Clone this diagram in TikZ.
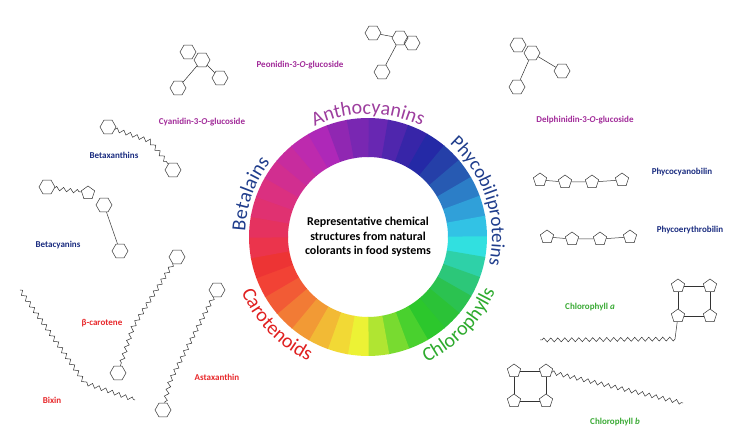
\documentclass[tikz,border=0pt]{standalone}
\usepackage{fontspec}
\setmainfont{Carlito}
\usetikzlibrary{shapes.geometric,decorations.text,decorations.pathmorphing}
\definecolor{lpurple}{HTML}{A22C9A}
\definecolor{lnavy}{HTML}{1A2C80}
\definecolor{lgreen}{HTML}{3AAA35}
\definecolor{lred}{HTML}{E8282B}
\definecolor{rpurple}{HTML}{9D3E9E}
\definecolor{rblue}{HTML}{1F3D8C}
\definecolor{rgreen}{HTML}{2DAA2D}
\definecolor{rred}{HTML}{E02020}
\tikzset{
 hex/.style={draw=black!80,line width=0.5pt,regular polygon,regular polygon sides=6,minimum size=16pt,inner sep=0pt},
 pent/.style={draw=black!80,line width=0.5pt,regular polygon,regular polygon sides=5,minimum size=14pt,inner sep=0pt},
 bond/.style={draw=black!80,line width=0.5pt},
 chain/.style={draw=black!80,line width=0.5pt,decorate,decoration={zigzag,segment length=7pt,amplitude=2pt}},
 lab/.style={font=\bfseries\fontsize{9}{10}\selectfont,anchor=center},
 ringlab/.style={decorate,decoration={text along path,text align=center,text={#1}}},
}
\newcommand{\anthoc}[9]{%
 \node[hex] (#1a) at (#2,#3) {};
 \node[hex] (#1c) at (#4,#5) {};
 \node[hex] (#1b) at (#6,#7) {};
 \node[hex] (#1s) at (#8,#9) {};
 \draw[bond] (#1c) -- (#1b);
 \draw[bond] (#1c) -- (#1s);
}
\begin{document}
\begin{tikzpicture}[x=1pt,y=1pt]
\useasboundingbox (0,0) rectangle (739,441);
\fill[white] (0,0) rectangle (739,441);
\coordinate (c) at (368,204);
% colour ring
\foreach \t/\h/\v in {0/268/0.70,10/258/0.68,20/248/0.66,30/238/0.65,40/228/0.66,50/218/0.70,60/208/0.78,70/200/0.85,80/192/0.90,90/180/0.88,100/165/0.82,110/150/0.78,120/135/0.76,130/125/0.76,140/120/0.78,150/110/0.82,160/95/0.86,170/78/0.90,180/62/0.95,190/52/0.95,200/42/0.95,210/32/0.95,220/22/0.95,230/12/0.95,240/4/0.95,250/360/0.93,260/352/0.92,270/345/0.90,280/338/0.88,290/332/0.86,300/324/0.82,310/316/0.78,320/306/0.74,330/296/0.72,340/285/0.70,350/275/0.70}{
 \pgfmathsetmacro{\hf}{mod(\h,360)/360}
 \definecolor{ringc}{hsb}{\hf,0.78,\v}
 \pgfmathsetmacro{\a}{90-\t+0.3}
 \pgfmathsetmacro{\b}{90-\t-10.3}
 \fill[ringc] ([shift={(\a:119)}]c) arc[start angle=\a,end angle=\b,radius=119] -- ([shift={(\b:80)}]c) arc[start angle=\b,end angle=\a,radius=80] -- cycle;
}
\node[align=center,font=\bfseries\fontsize{12}{14.5}\selectfont] (title) at (c) {Representative chemical\\structures from natural\\colorants in food systems};
% curved labels
\path[ringlab={|\fontsize{20}{22}\selectfont\color{rpurple}|Anthocyanins}] ([shift={(150:123)}]c) arc[start angle=150,end angle=30,radius=123];
\path[ringlab={|\fontsize{19}{22}\selectfont\color{rblue}|Phycobiliproteins}] ([shift={(88:124)}]c) arc[start angle=88,end angle=-52,radius=124];
\path[ringlab={|\fontsize{20}{22}\selectfont\color{rblue}|Betalains}] ([shift={(220:123)}]c) arc[start angle=220,end angle=100,radius=123];
\path[ringlab={|\fontsize{20}{22}\selectfont\color{rred}|Carotenoids}] ([shift={(180:138)}]c) arc[start angle=180,end angle=268,radius=138];
\path[ringlab={|\fontsize{20}{22}\selectfont\color{rgreen}|Chlorophylls}] ([shift={(-88:138)}]c) arc[start angle=-88,end angle=0,radius=138];
% labels
\node[lab,text=lpurple] (peo) at (300,376) {Peonidin-3-\textit{O}-glucoside};
\node[lab,text=lpurple] (cya) at (202,319) {Cyanidin-3-\textit{O}-glucoside};
\node[lab,text=lpurple] (del) at (585,321) {Delphinidin-3-\textit{O}-glucoside};
\node[lab,text=lnavy] (bx) at (114,286) {Betaxanthins};
\node[lab,text=lnavy] (bc) at (58,196) {Betacyanins};
\node[lab,text=lnavy] (pcb) at (682,269) {Phycocyanobilin};
\node[lab,text=lnavy] (peb) at (690,211) {Phycoerythrobilin};
\node[lab,text=lgreen] (cha) at (590,134) {Chlorophyll \textit{a}};
\node[lab,text=lgreen] (chb) at (615,19) {Chlorophyll \textit{b}};
\node[lab,text=lred] (bcar) at (102,118) {β-carotene};
\node[lab,text=lred] (asta) at (217,64) {Astaxanthin};
\node[lab,text=lred] (bix) at (52,41) {Bixin};
% anthocyanins
\anthoc{cy}{188}{389}{202}{381}{220}{363}{178}{353}
\anthoc{d}{518}{396}{532}{388}{562}{370}{517}{354}
\anthoc{p}{412}{398}{400}{403}{373}{408}{382}{369}
% betaxanthin
\node[hex] (bxr) at (108,314) {};
\node[hex] (bxp) at (173,271) {};
\coordinate (bxm) at (150,300);
\draw[chain] (bxr) -- (bxm) -- (bxp);
% betacyanin
\node[hex] (bcl) at (47,254) {};
\node[pent] (bcp) at (88,248) {};
\node[hex] (bci) at (104,236) {};
\node[hex] (bcs) at (120,190) {};
\draw[chain] (bcl) -- (bcp);
\draw[bond] (bci) -- (bcs);
% phycobilins
\node[pent] (pa1) at (540,261) {};
\node[pent] (pa2) at (565,259) {};
\node[pent] (pa3) at (592,259) {};
\node[pent] (pa4) at (622,261) {};
\node[pent] (pb1) at (547,204) {};
\node[pent] (pb2) at (572,202) {};
\node[pent] (pb3) at (600,202) {};
\node[pent] (pb4) at (630,204) {};
\draw[bond] (pa1) -- (pa2) -- (pa3) -- (pa4);
\draw[bond] (pb1) -- (pb2) -- (pb3) -- (pb4);
% chlorophyll a
\node[pent] (ca1) at (678,155) {};
\node[pent] (ca2) at (710,155) {};
\node[pent] (ca3) at (710,125) {};
\node[pent] (ca4) at (678,125) {};
\draw[bond] (ca1) -- (ca2) -- (ca3) -- (ca4) -- (ca1);
\coordinate (cat1) at (675,102);
\coordinate (cat2) at (540,101);
\draw[bond] (ca4) -- (cat1);
\draw[chain] (cat1) -- (cat2);
% chlorophyll b
\node[pent] (cb1) at (514,70) {};
\node[pent] (cb2) at (546,70) {};
\node[pent] (cb3) at (546,40) {};
\node[pent] (cb4) at (514,40) {};
\draw[bond] (cb1) -- (cb2) -- (cb3) -- (cb4) -- (cb1);
\coordinate (cbt) at (683,38);
\draw[chain] (cb2) -- (cbt);
% beta-carotene
\node[hex] (bk1) at (177,184) {};
\node[hex] (bk2) at (118,68) {};
\coordinate (bkm) at (133,114);
\draw[chain] (bk1) -- (bkm) -- (bk2);
% astaxanthin
\node[hex] (as1) at (217,151) {};
\node[hex] (as2) at (163,31) {};
\coordinate (asm) at (170,60);
\draw[chain] (as1) -- (asm) -- (as2);
% bixin
\coordinate (bx1) at (20,151);
\coordinate (bx2) at (85,58);
\coordinate (bx3) at (135,41);
\draw[chain] (bx1) -- (bx2) -- (bx3);
\end{tikzpicture}
\end{document}
